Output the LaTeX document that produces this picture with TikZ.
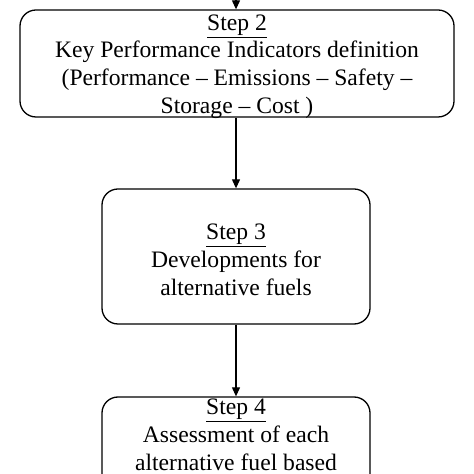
\documentclass[tikz,border=0pt]{standalone}
\usepackage{fontspec}
\setmainfont{Liberation Serif}
\usetikzlibrary{arrows.meta}
\begin{document}
\begin{tikzpicture}[x=1bp,y=1bp,
  stepbox/.style={draw, line width=1.3bp, rounded corners=16bp, inner sep=0pt},
  steptext/.style={align=center, inner sep=0pt, font=\fontsize{23.6bp}{27.6bp}\selectfont},
  conn/.style={line width=1.1bp, -{Triangle[length=9bp,width=8bp]}}]
\useasboundingbox (0,0) rectangle (474,474);
\clip (0,0) rectangle (474,474);
\node[stepbox, minimum width=434bp, minimum height=107bp] (b2) at (237,410.5) {};
\node[stepbox, minimum width=268bp, minimum height=135bp] (b3) at (236,217.5) {};
\node[stepbox, minimum width=268bp, minimum height=135bp] (b4) at (236,9.5) {};
\node[steptext, anchor=north] (t2) at (237,459.5) {\underline{Step 2}\\Key Performance Indicators definition\\(Performance -- Emissions -- Safety --\\Storage -- Cost )};
\node[steptext, anchor=north] (t3) at (236,250) {\underline{Step 3}\\Developments for\\alternative fuels};
\node[steptext, anchor=north] (t4) at (236,75) {\underline{Step 4}\\Assessment of each\\alternative fuel based};
\coordinate (top) at (236,480);
\draw[conn] (top) -- (b2.north -| top);
\draw[conn] (b2.south -| b3.north) -- (b3.north);
\draw[conn] (b3.south) -- (b4.north);
\end{tikzpicture}
\end{document}
